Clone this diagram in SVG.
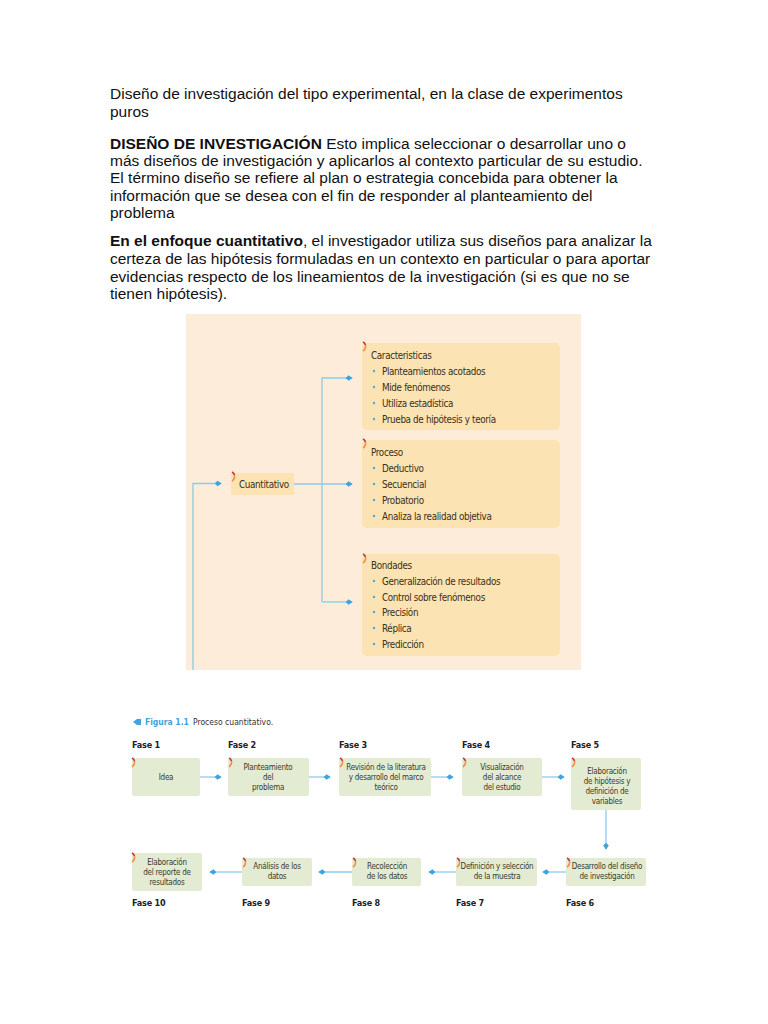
<svg xmlns="http://www.w3.org/2000/svg" width="768" height="1024" viewBox="0 0 768 1024">
<defs>
<style>
.body{font-family:"Liberation Sans",Arial,sans-serif;font-size:15.5px;fill:#111}
.b{font-weight:bold}
.cap{font-family:"Liberation Sans Narrow","DejaVu Sans Condensed","Liberation Sans",sans-serif;font-size:9.8px;letter-spacing:-0.35px;fill:#3a3020}
.bul{fill:#4aa8e0}
.panel{fill:#fcecd9}
.ybox{fill:#fbe3b3}
.gbox{fill:#e3ecd3}
.conn{fill:none;stroke:#8ccbea;stroke-width:1.3}
.fase{font-family:"Liberation Sans Narrow","DejaVu Sans Condensed","Liberation Sans",sans-serif;font-size:9px;font-weight:bold;letter-spacing:-0.2px;fill:#222}
.gt{font-family:"Liberation Sans Narrow","DejaVu Sans Condensed","Liberation Sans",sans-serif;font-size:8px;letter-spacing:-0.25px;fill:#3a3a2a;text-anchor:middle}
.hookr{fill:none;stroke:#c8323a;stroke-width:1.6}
.hooko{fill:none;stroke:#f0904a;stroke-width:1.6}
</style>
<marker id="ah" viewBox="0 0 10 10" refX="9" refY="5" markerWidth="7" markerHeight="7" markerUnits="userSpaceOnUse" orient="auto">
<path d="M0,5 L4,1 L10,5 L4,9 Z" fill="#3fa3e0"/>
</marker>
<g id="hook">
<path class="hookr" d="M0,-4 Q2,-3 2.5,-1"/>
<path class="hooko" d="M2.5,-1 Q3,3 0,5"/>
</g>
</defs>
<rect width="768" height="1024" fill="#ffffff"/>

<g id="intro">
<text class="body" x="110" y="99">Diseño de investigación del tipo experimental, en la clase de experimentos</text>
<text class="body" x="110" y="117">puros</text>
<text class="body" x="110" y="149"><tspan class="b">DISEÑO DE INVESTIGACIÓN</tspan> Esto implica seleccionar o desarrollar uno o</text>
<text class="body" x="110" y="166">más diseños de investigación y aplicarlos al contexto particular de su estudio.</text>
<text class="body" x="110" y="183">El término diseño se refiere al plan o estrategia concebida para obtener la</text>
<text class="body" x="110" y="201">información que se desea con el fin de responder al planteamiento del</text>
<text class="body" x="110" y="218">problema</text>
<text class="body" x="110" y="246"><tspan class="b">En el enfoque cuantitativo</tspan>, el investigador utiliza sus diseños para analizar la</text>
<text class="body" x="110" y="264">certeza de las hipótesis formuladas en un contexto en particular o para aportar</text>
<text class="body" x="110" y="282">evidencias respecto de los lineamientos de la investigación (si es que no se</text>
<text class="body" x="110" y="299">tienen hipótesis).</text>
</g>

<rect class="panel" x="186" y="314" width="395" height="356"/>

<g id="connectors1">
<path class="conn" d="M193,670 V483.5 H221" marker-end="url(#ah)"/>
<path class="conn" d="M294,484 H352" marker-end="url(#ah)"/>
<path class="conn" d="M322,602 V378 H352" marker-end="url(#ah)"/>
<path class="conn" d="M322,602 H352" marker-end="url(#ah)"/>
</g>

<g id="cuantitativo">
<rect class="ybox" x="231" y="473" width="63" height="22" rx="2"/>
<use href="#hook" x="232" y="476"/>
<text class="cap" x="239" y="488">Cuantitativo</text>
</g>

<g id="caracteristicas">
<rect class="ybox" x="362" y="343" width="198" height="87" rx="5"/>
<use href="#hook" x="363" y="346"/>
<text class="cap" x="371" y="359">Caracteristicas</text>
<circle class="bul" cx="374" cy="371" r="1.2"/><text class="cap" x="382" y="375">Planteamientos acotados</text>
<circle class="bul" cx="374" cy="387" r="1.2"/><text class="cap" x="382" y="391">Mide fenómenos</text>
<circle class="bul" cx="374" cy="403" r="1.2"/><text class="cap" x="382" y="407">Utiliza estadística</text>
<circle class="bul" cx="374" cy="419" r="1.2"/><text class="cap" x="382" y="423">Prueba de hipótesis y teoría</text>
</g>

<g id="proceso">
<rect class="ybox" x="362" y="440" width="198" height="88" rx="5"/>
<use href="#hook" x="363" y="443"/>
<text class="cap" x="371" y="456">Proceso</text>
<circle class="bul" cx="374" cy="468" r="1.2"/><text class="cap" x="382" y="472">Deductivo</text>
<circle class="bul" cx="374" cy="484" r="1.2"/><text class="cap" x="382" y="488">Secuencial</text>
<circle class="bul" cx="374" cy="500" r="1.2"/><text class="cap" x="382" y="504">Probatorio</text>
<circle class="bul" cx="374" cy="516" r="1.2"/><text class="cap" x="382" y="520">Analiza la realidad objetiva</text>
</g>

<g id="bondades">
<rect class="ybox" x="362" y="554" width="198" height="102" rx="5"/>
<use href="#hook" x="363" y="558"/>
<text class="cap" x="371" y="569">Bondades</text>
<circle class="bul" cx="374" cy="581" r="1.2"/><text class="cap" x="382" y="585">Generalización de resultados</text>
<circle class="bul" cx="374" cy="597" r="1.2"/><text class="cap" x="382" y="601">Control sobre fenómenos</text>
<circle class="bul" cx="374" cy="612" r="1.2"/><text class="cap" x="382" y="616">Precisión</text>
<circle class="bul" cx="374" cy="628" r="1.2"/><text class="cap" x="382" y="632">Réplica</text>
<circle class="bul" cx="374" cy="644" r="1.2"/><text class="cap" x="382" y="648">Predicción</text>
</g>

<g id="figcaption">
<path d="M133,722 L137,719 H141 V725 H137 Z" fill="#3fa3e0"/>
<text x="145" y="725" style="font-family:'Liberation Sans Narrow','DejaVu Sans Condensed','Liberation Sans',sans-serif;font-size:8.5px;font-weight:bold;fill:#3fa3e0">Figura 1.1</text>
<text x="193" y="725" style="font-family:'Liberation Sans Narrow','DejaVu Sans Condensed','Liberation Sans',sans-serif;font-size:8.5px;fill:#333">Proceso cuantitativo.</text>
</g>

<g id="fase-labels">
<text class="fase" x="132" y="748">Fase 1</text>
<text class="fase" x="228" y="748">Fase 2</text>
<text class="fase" x="339" y="748">Fase 3</text>
<text class="fase" x="462" y="748">Fase 4</text>
<text class="fase" x="571" y="748">Fase 5</text>
<text class="fase" x="132" y="906">Fase 10</text>
<text class="fase" x="242" y="906">Fase 9</text>
<text class="fase" x="352" y="906">Fase 8</text>
<text class="fase" x="456" y="906">Fase 7</text>
<text class="fase" x="566" y="906">Fase 6</text>
</g>

<g id="connectors2">
<path class="conn" d="M200,777 H221" marker-end="url(#ah)"/>
<path class="conn" d="M309,777 H330" marker-end="url(#ah)"/>
<path class="conn" d="M431,777 H453" marker-end="url(#ah)"/>
<path class="conn" d="M542,777 H564" marker-end="url(#ah)"/>
<path class="conn" d="M606,810 V849" marker-end="url(#ah)"/>
<path class="conn" d="M566,872 H543" marker-end="url(#ah)"/>
<path class="conn" d="M456,872 H429" marker-end="url(#ah)"/>
<path class="conn" d="M352,872 H319" marker-end="url(#ah)"/>
<path class="conn" d="M242,872 H210" marker-end="url(#ah)"/>
</g>

<g id="fase1">
<rect class="gbox" x="132" y="758" width="68" height="38" rx="2"/>
<use href="#hook" x="132" y="762"/>
<text class="gt" x="166" y="780">Idea</text>
</g>
<g id="fase2">
<rect class="gbox" x="228" y="758" width="81" height="38" rx="2"/>
<use href="#hook" x="229" y="762"/>
<text class="gt" x="268" y="770">Planteamiento</text>
<text class="gt" x="268" y="780">del</text>
<text class="gt" x="268" y="790">problema</text>
</g>
<g id="fase3">
<rect class="gbox" x="339" y="758" width="92" height="38" rx="2"/>
<use href="#hook" x="340" y="762"/>
<text class="gt" x="386" y="770">Revisión de la literatura</text>
<text class="gt" x="386" y="780">y desarrollo del marco</text>
<text class="gt" x="386" y="790">teórico</text>
</g>
<g id="fase4">
<rect class="gbox" x="462" y="758" width="80" height="38" rx="2"/>
<use href="#hook" x="463" y="762"/>
<text class="gt" x="502" y="770">Visualización</text>
<text class="gt" x="502" y="780">del alcance</text>
<text class="gt" x="502" y="790">del estudio</text>
</g>
<g id="fase5">
<rect class="gbox" x="571" y="758" width="70" height="52" rx="2"/>
<use href="#hook" x="572" y="762"/>
<text class="gt" x="607" y="774">Elaboración</text>
<text class="gt" x="607" y="784">de hipótesis y</text>
<text class="gt" x="607" y="794">definición de</text>
<text class="gt" x="607" y="804">variables</text>
</g>
<g id="fase6">
<rect class="gbox" x="566" y="858" width="80" height="28" rx="2"/>
<use href="#hook" x="567" y="862"/>
<text class="gt" x="607" y="869">Desarrollo del diseño</text>
<text class="gt" x="607" y="879">de investigación</text>
</g>
<g id="fase7">
<rect class="gbox" x="456" y="858" width="81" height="28" rx="2"/>
<use href="#hook" x="457" y="862"/>
<text class="gt" x="497" y="869">Definición y selección</text>
<text class="gt" x="497" y="879">de la muestra</text>
</g>
<g id="fase8">
<rect class="gbox" x="352" y="858" width="69" height="28" rx="2"/>
<use href="#hook" x="353" y="862"/>
<text class="gt" x="387" y="869">Recolección</text>
<text class="gt" x="387" y="879">de los datos</text>
</g>
<g id="fase9">
<rect class="gbox" x="242" y="858" width="70" height="28" rx="2"/>
<use href="#hook" x="243" y="862"/>
<text class="gt" x="277" y="869">Análisis de los</text>
<text class="gt" x="277" y="879">datos</text>
</g>
<g id="fase10">
<rect class="gbox" x="132" y="853" width="70" height="38" rx="2"/>
<use href="#hook" x="132" y="857"/>
<text class="gt" x="167" y="865">Elaboración</text>
<text class="gt" x="167" y="875">del reporte de</text>
<text class="gt" x="167" y="885">resultados</text>
</g>
</svg>
